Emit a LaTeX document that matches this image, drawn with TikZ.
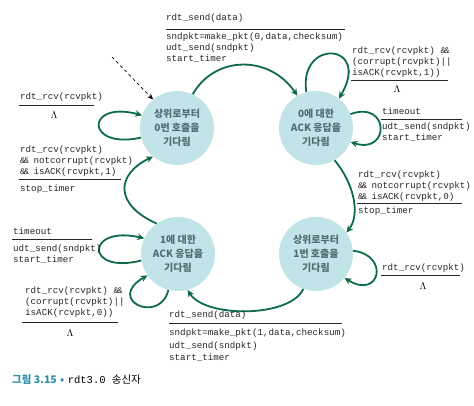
\documentclass[tikz,border=0pt]{standalone}
\usepackage{fontspec}
\setmainfont{Liberation Serif}
\newfontfamily\kr{Noto Sans CJK KR}
\newfontfamily\mono{Liberation Mono}
\usetikzlibrary{arrows.meta}
\definecolor{arr}{HTML}{0E6B47}
\definecolor{stfill}{HTML}{C0E4E7}
\definecolor{sttext}{HTML}{4F6F72}
\definecolor{capc}{HTML}{2E8FA6}
\newcommand\andand{{\fontsize{8.6}{11}\selectfont\&\kern-1.4pt\&}\kern-1pt}
\tikzset{
  state/.style={circle, fill=stfill, minimum size=74pt, inner sep=0pt,
    font=\kr\bfseries\fontsize{10}{14}\selectfont, text=sttext, align=center},
  tr/.style={draw=arr, line width=1.8pt, -{Stealth[length=7pt,width=6.5pt]}},
  lbl/.style={anchor=north west, inner sep=0pt, align=left,
    font=\mono\fontsize{9.2}{11}\selectfont, text=black!85},
  lam/.style={inner sep=0pt, font=\fontsize{10}{11}\selectfont},
  rulel/.style={line width=0.9pt, draw=black!85}
}
\begin{document}
\begin{tikzpicture}[x=1pt,y=-1pt]
\useasboundingbox (0,0) rectangle (474,406);

% states
\node[state] (s0) at (177,128) {상위로부터\\0번 호출을\\기다림};
\node[state] (s1) at (316,128) {0에 대한\\ACK 응답을\\기다림};
\node[state] (s2) at (316,254) {상위로부터\\1번 호출을\\기다림};
\node[state] (s3) at (178,254) {1에 대한\\ACK 응답을\\기다림};

% initial
\coordinate (init) at (112,57);
\draw[dashed, line width=0.7pt, -{Stealth[length=6pt,width=5pt]}] (init) -- (s0.130);

% transitions
\draw[tr] (s0.65) .. controls (215,55) and (270,55) .. (s1.120);
\draw[tr] (s1.105) .. controls (298,38) and (372,42) .. (s1.52);
\draw[tr] (s1.22) .. controls (390,100) and (390,155) .. (s1.-22);
\draw[tr] (s1.-60) .. controls (355,185) and (360,215) .. (s2.35);
\draw[tr] (s2.5) .. controls (390,255) and (380,300) .. (s2.-40);
\draw[tr] (s2.-110) .. controls (290,318) and (205,318) .. (s3.-75);
\draw[tr] (s3.-105) .. controls (160,325) and (105,300) .. (s3.-145);
\draw[tr] (s3.190) .. controls (85,275) and (85,225) .. (s3.155);
\draw[tr] (s3.125) .. controls (115,205) and (115,175) .. (s0.-130);
\draw[tr] (s0.195) .. controls (85,150) and (85,100) .. (s0.160);

% labels: top
\node[lbl] (t1) at (166,14) {rdt\_send(data)};
\draw[rulel] (166,29) -- (345,29);
\node[lbl] (t2) at (166,33) {sndpkt=make\_pkt(0,data,checksum)\\udt\_send(sndpkt)\\start\_timer};

% top right
\node[lbl] (tr1) at (352,47) {rdt\_rcv(rcvpkt) \andand\\(corrupt(rcvpkt)||\\isACK(rcvpkt,1))};
\draw[rulel] (351,80) -- (448,80);
\node[lam] (tr2) at (397,89) {$\Lambda$};

% right timeout
\node[lbl] (r1) at (382,108) {timeout};
\draw[rulel] (381,119) -- (462,119);
\node[lbl] (r2) at (382,123) {udt\_send(sndpkt)\\start\_timer};

% right middle
\node[lbl] (m1) at (358,171) {rdt\_rcv(rcvpkt)\\\andand\ notcorrupt(rcvpkt)\\\andand\ isACK(rcvpkt,0)};
\draw[rulel] (357,203) -- (462,203);
\node[lbl] (m2) at (358,207) {stop\_timer};

% right bottom
\node[lbl] (rb1) at (382,264) {rdt\_rcv(rcvpkt)};
\draw[rulel] (381,275) -- (460,275);
\node[lam] (rb2) at (423,286) {$\Lambda$};

% bottom
\node[lbl] (b1) at (169,311) {rdt\_send(data)};
\draw[rulel] (169,323) -- (342,323);
\node[lbl, font=\mono\fontsize{9.2}{12.5}\selectfont] (b2) at (169,329) {sndpkt=make\_pkt(1,data,checksum)\\udt\_send(sndpkt)\\start\_timer};

% left top
\node[lbl] (l1) at (20,93) {rdt\_rcv(rcvpkt)};
\draw[rulel] (19,105) -- (94,105);
\node[lam] (l2) at (54,115) {$\Lambda$};

% left middle
\node[lbl] (lm1) at (20,146) {rdt\_rcv(rcvpkt)\\\andand\ notcorrupt(rcvpkt)\\\andand\ isACK(rcvpkt,1)};
\draw[rulel] (19,179) -- (121,179);
\node[lbl] (lm2) at (20,185) {stop\_timer};

% left timeout
\node[lbl] (lt1) at (13,228) {timeout};
\draw[rulel] (12,239) -- (92,239);
\node[lbl] (lt2) at (13,245) {udt\_send(sndpkt)\\start\_timer};

% bottom left
\node[lbl] (lb1) at (25,287) {rdt\_rcv(rcvpkt) \andand\\(corrupt(rcvpkt)||\\isACK(rcvpkt,0))};
\draw[rulel] (22,322) -- (118,322);
\node[lam] (lb2) at (70,333) {$\Lambda$};

% caption
\node[anchor=west, inner sep=0pt, font=\fontsize{10.5}{12}\selectfont] (cap) at (12,380)
  {{\kr\bfseries\color{capc}그림 3.15 \kern1pt•\kern1pt\ }{\mono rdt3.0 }{\kr 송신자}};
\end{tikzpicture}
\end{document}
